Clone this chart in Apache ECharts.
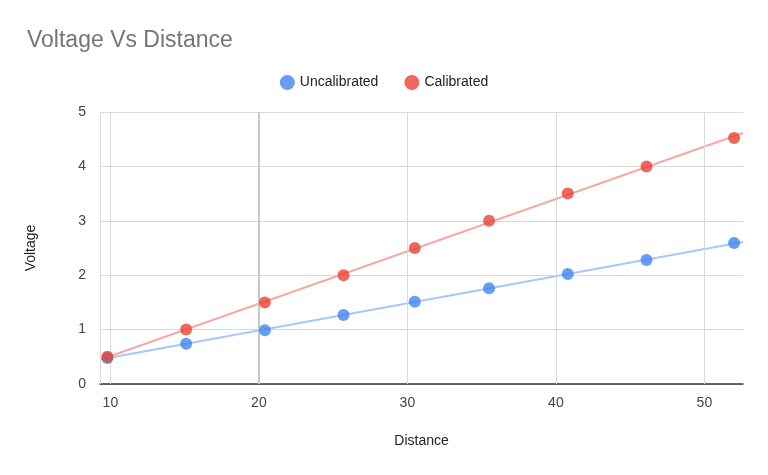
<!DOCTYPE html>
<html>
<head>
<meta charset="utf-8">
<script src="https://cdn.jsdelivr.net/npm/echarts@6/dist/echarts.min.js"></script>
<style>html,body{margin:0;padding:0;background:#fff}#main{width:768px;height:475px}</style>
</head>
<body>
<div id="main"></div>
<script>
var distance = [9.8, 15.1, 20.4, 25.7, 30.5, 35.5, 40.8, 46.1, 52.0];
var uncalibrated = [0.48, 0.74, 0.99, 1.27, 1.51, 1.76, 2.02, 2.28, 2.59];
var calibrated = [0.5, 1.0, 1.5, 2.0, 2.5, 3.0, 3.5, 4.0, 4.52];
var xTicks = [10, 20, 30, 40, 50];
var xMin = 9.3, xMax = 52.6;

// linear trendline through the points, drawn across the whole axis
function trend(xs, ys){
	var n = xs.length, sx = 0, sy = 0, sxy = 0, sxx = 0;
	for(var i = 0; i < n; i++){
		sx += xs[i]; sy += ys[i]; sxy += xs[i]*ys[i]; sxx += xs[i]*xs[i];
	}
	var b = (n*sxy - sx*sy)/(n*sxx - sx*sx);
	var a = (sy - b*sx)/n;
	return [[xMin, a + b*xMin], [xMax, a + b*xMax]];
}
function pairs(xs, ys){
	return xs.map(function (x, i){ return [x, ys[i]]; });
}

var myChart = echarts.init(document.getElementById('main'));
var font = 'Arial, "Liberation Sans", sans-serif';
var option = {
	title: {
		text: 'Voltage Vs Distance',
		left: 22, top: 24,
		textStyle: {color: '#757575', fontSize: 23, fontWeight: 'normal', fontFamily: font}
	},
	legend: {
		data: ['Uncalibrated', 'Calibrated'],
		top: 70, left: 'center',
		icon: 'circle', itemWidth: 15, itemHeight: 15, itemGap: 26,
		textStyle: {color: '#222', fontSize: 14, fontFamily: font}
	},
	grid: {left: 100, right: 25, top: 112, bottom: 91},
	xAxis: {
		type: 'value', min: xMin, max: xMax,
		name: 'Distance', nameLocation: 'middle', nameGap: 50,
		nameTextStyle: {color: '#222', fontSize: 14, fontFamily: font},
		axisLine: {show: true, onZero: true, lineStyle: {color: '#333', width: 1.5}},
		axisTick: {show: false},
		axisLabel: {customValues: xTicks, color: '#444', fontSize: 14, fontFamily: font, margin: 12},
		splitLine: {show: false}
	},
	yAxis: {
		type: 'value', min: 0, max: 5, interval: 1,
		name: 'Voltage', nameLocation: 'middle', nameGap: 62,
		nameTextStyle: {color: '#222', fontSize: 14, fontFamily: font},
		axisLine: {show: false},
		axisTick: {show: false},
		axisLabel: {color: '#444', fontSize: 14, fontFamily: font, margin: 14},
		splitLine: {lineStyle: {color: '#d9d9d9'}}
	},
	series: [{
		name: 'Uncalibrated', type: 'scatter', symbolSize: 12,
		itemStyle: {color: '#4285f4'},
		data: pairs(distance, uncalibrated),
		z: 5,
		markLine: {
			silent: true, symbol: 'none', label: {show: false},
			lineStyle: {color: '#d9d9d9', type: 'solid', width: 1},
			data: [xMin].concat(xTicks).map(function (t){
				return {xAxis: t, lineStyle: {color: t == 20 ? '#c8c8c8' : '#d9d9d9', width: t == 20 ? 2 : 1}};
			})
		}
	}, {
		name: 'Calibrated', type: 'scatter', symbolSize: 12,
		itemStyle: {color: '#ea4335'},
		data: pairs(distance, calibrated),
		z: 5
	}, {
		name: 'Uncalibrated trend', type: 'line', symbol: 'none', silent: true,
		lineStyle: {color: '#a8c7fa', width: 2},
		data: trend(distance, uncalibrated), z: 3
	}, {
		name: 'Calibrated trend', type: 'line', symbol: 'none', silent: true,
		lineStyle: {color: '#f4aaa3', width: 2},
		data: trend(distance, calibrated), z: 3
	}]
};
myChart.setOption(option);
</script>
</body>
</html>
